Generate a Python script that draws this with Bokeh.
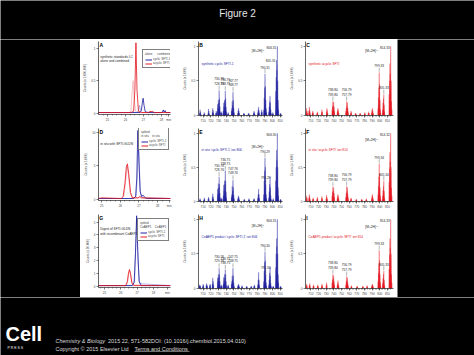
from bokeh.plotting import figure
from bokeh.layouts import row, column
from bokeh.models import Range1d, Legend, LegendItem, FixedTicker
from bokeh.core.properties import value
from bokeh.embed import file_html
from bokeh.resources import INLINE

FONT = "Liberation Sans"
BLUE = "#1c1c9e"
RED = "#e3121b"
LBLUE = "#8a8ad6"
PINK = "#f09aa0"
TXT = "#222222"

# ---------------- chromatograms (time in min, counts) ----------------
A_cyc_t = [24.5, 26.8, 26.88, 26.93, 26.98, 27.03, 27.1, 27.3, 28.05, 28.1, 28.15, 28.2, 28.25, 28.5]
A_cyc_y = [0.01, 0.01, 0.04, 0.15, 0.23, 0.12, 0.02, 0.01, 0.01, 0.05, 0.02, 0.04, 0.01, 0.01]
A_cyc2_t = [24.5, 26.65, 26.72, 26.78, 26.84, 26.9, 27.5, 28.0, 28.1, 28.2, 28.5]
A_cyc2_y = [0.01, 0.01, 0.04, 0.12, 0.04, 0.01, 0.01, 0.01, 0.04, 0.01, 0.01]
A_acy_t = [24.5, 26.3, 26.45, 26.52, 26.58, 26.64, 26.72, 26.9, 27.3, 27.36, 27.42, 27.48, 27.6, 28.5]
A_acy_y = [0.01, 0.01, 0.03, 0.35, 1.08, 0.35, 0.03, 0.01, 0.01, 0.03, 0.02, 0.03, 0.01, 0.01]
A_acy2_t = [24.5, 26.2, 26.3, 26.36, 26.42, 26.48, 26.56, 26.7, 27.3, 27.4, 27.5, 28.5]
A_acy2_y = [0.01, 0.01, 0.03, 0.3, 0.5, 0.22, 0.03, 0.01, 0.01, 0.03, 0.01, 0.01]

D_cyc_t = [24.83, 26.7, 26.82, 26.88, 26.94, 27.0, 27.06, 27.14, 27.22, 27.3, 27.4, 28.69]
D_cyc_y = [0.1, 0.1, 0.4, 3.0, 10.3, 5.5, 1.2, 0.4, 0.6, 0.3, 0.1, 0.1]
D_cyc2_t = [24.83, 26.75, 26.85, 26.92, 26.97, 27.02, 27.08, 27.15, 27.3, 28.69]
D_cyc2_y = [0.1, 0.1, 0.5, 4.0, 9.6, 5.0, 1.0, 0.3, 0.2, 0.1]
D_acy_t = [24.83, 25.0, 26.05, 26.15, 26.25, 26.32, 26.38, 26.45, 26.55, 26.65, 26.95, 27.05, 27.15, 28.69]
D_acy_y = [0.1, 0.2, 0.1, 0.4, 2.4, 4.8, 5.3, 3.8, 1.0, 0.2, 0.2, 0.4, 0.2, 0.1]
D_acy2_t = [24.83, 26.1, 26.2, 26.3, 26.37, 26.44, 26.52, 26.62, 28.69]
D_acy2_y = [0.1, 0.1, 0.6, 3.0, 4.9, 3.5, 1.0, 0.2, 0.1]

G_cyc_t = [24.64, 26.7, 26.82, 26.9, 26.97, 27.04, 27.12, 27.25, 29.04]
G_cyc_y = [0.05, 0.05, 0.3, 2.6, 5.5, 2.8, 0.4, 0.05, 0.05]
G_cyc2_t = [24.64, 26.75, 26.85, 26.92, 26.98, 27.05, 27.15, 29.04]
G_cyc2_y = [0.05, 0.05, 0.5, 3.2, 5.2, 2.0, 0.2, 0.05]
G_acy_t = [24.64, 26.3, 26.4, 26.47, 26.53, 26.6, 26.68, 26.8, 29.04]
G_acy_y = [0.05, 0.05, 0.35, 1.0, 1.3, 0.95, 0.25, 0.05, 0.05]
G_acy2_t = [24.64, 26.35, 26.44, 26.5, 26.56, 26.63, 26.72, 29.04]
G_acy2_y = [0.05, 0.05, 0.5, 1.1, 1.2, 0.7, 0.1, 0.05]

# ---------------- mass spectra: (first isotope m/z, intensities at 0.5 m/z steps) ----------------
ISO = 0.5
B_clusters = [
    (705.5, [0.03, 0.08, 0.05, 0.02]), (711.0, [0.02, 0.04, 0.02]), (716.5, [0.03, 0.09, 0.06, 0.02]),
    (722.0, [0.04, 0.1, 0.07, 0.03]), (726.5, [0.03, 0.06, 0.04]),
    (728.76, [0.16, 0.1, 0.22, 0.18, 0.36, 0.24, 0.12, 0.05]), (733.5, [0.03, 0.05, 0.03]),
    (736.25, [0.06, 0.18, 0.12, 0.22, 0.2, 0.35, 0.24, 0.12, 0.05]), (742.0, [0.02, 0.04, 0.02]),
    (746.77, [0.06, 0.1, 0.2, 0.14, 0.34, 0.22, 0.1, 0.04]), (755.0, [0.03, 0.07, 0.1, 0.06, 0.03]),
    (762.5, [0.02, 0.03, 0.02]), (768.5, [0.02, 0.03, 0.02]), (775.5, [0.03, 0.06, 0.04, 0.02]),
    (781.0, [0.04, 0.08, 0.12, 0.07, 0.03]), (785.5, [0.04, 0.08, 0.05]),
    (788.81, [0.08, 0.25, 0.4, 0.6, 0.42, 0.22, 0.1, 0.04]), (795.3, [0.05, 0.12, 0.2, 0.28, 0.18, 0.08, 0.03]),
    (800.0, [0.02, 0.04, 0.02]), (804.31, [0.35, 0.55, 0.8, 0.65, 1.0, 0.5, 0.22, 0.08]), (810.0, [0.02, 0.03, 0.02]),
]
B_ann = [("730.76\n728.76", 730.76, "c"), ("736.75\n738.75", 738.75, "c"), ("747.77\n748.77", 748.77, "c"),
         ("790.31", 790.31, "c"), ("805.31", 805.31, "l"), ("806.31", 806.31, "l")]

E_clusters = [
    (705.5, [0.02, 0.04, 0.02]), (711.0, [0.02, 0.05, 0.03]), (716.5, [0.03, 0.06, 0.04]),
    (722.0, [0.05, 0.11, 0.07, 0.03]), (728.76, [0.18, 0.1, 0.26, 0.2, 0.36, 0.25, 0.12, 0.05]),
    (733.5, [0.03, 0.05, 0.03]), (736.25, [0.08, 0.24, 0.15, 0.3, 0.25, 0.45, 0.3, 0.14, 0.05]),
    (746.76, [0.06, 0.1, 0.22, 0.15, 0.31, 0.2, 0.09, 0.04]), (755.0, [0.03, 0.06, 0.08, 0.05, 0.02]),
    (763.0, [0.02, 0.03, 0.02]), (769.0, [0.02, 0.04, 0.02]), (775.5, [0.02, 0.04, 0.03]),
    (781.0, [0.05, 0.1, 0.18, 0.1, 0.04]), (788.79, [0.1, 0.3, 0.45, 0.64, 0.5, 0.25, 0.1, 0.04]),
    (795.3, [0.05, 0.14, 0.25, 0.36, 0.2, 0.08, 0.03]), (800.5, [0.02, 0.04, 0.02]),
    (804.30, [0.3, 0.5, 0.75, 0.6, 1.0, 0.5, 0.2, 0.08]), (810.0, [0.02, 0.03, 0.02]),
]
E_ann = [("730.76\n728.76", 730.76, "c"), ("736.75\n738.75", 738.75, "c"), ("747.76\n748.76", 748.76, "c"),
         ("790.29", 790.29, "c"), ("791.29", 791.29, "c"), ("806.30", 806.30, "l")]

H_clusters = [
    (705.0, [0.03, 0.05, 0.04, 0.03]), (709.5, [0.03, 0.06, 0.04]), (714.0, [0.04, 0.07, 0.05, 0.03]),
    (718.5, [0.04, 0.06, 0.04]), (722.0, [0.06, 0.15, 0.1, 0.05]),
    (728.76, [0.15, 0.1, 0.2, 0.16, 0.29, 0.2, 0.1, 0.04]), (733.5, [0.03, 0.05, 0.03]),
    (736.25, [0.06, 0.16, 0.1, 0.2, 0.15, 0.27, 0.2, 0.1, 0.04]), (742.0, [0.03, 0.05, 0.03]),
    (746.75, [0.06, 0.1, 0.18, 0.12, 0.29, 0.18, 0.08, 0.03]), (755.0, [0.03, 0.05, 0.06, 0.04, 0.02]),
    (760.0, [0.02, 0.04, 0.02]), (766.0, [0.02, 0.03, 0.02]), (772.0, [0.02, 0.03, 0.02]),
    (776.0, [0.03, 0.05, 0.03]), (781.0, [0.05, 0.12, 0.23, 0.12, 0.05]),
    (788.80, [0.1, 0.25, 0.38, 0.53, 0.4, 0.2, 0.08, 0.03]), (795.3, [0.05, 0.12, 0.22, 0.31, 0.18, 0.07, 0.03]),
    (800.5, [0.02, 0.03, 0.02]), (804.31, [0.3, 0.5, 0.72, 0.6, 1.0, 0.5, 0.2, 0.08]), (810.0, [0.02, 0.03, 0.02]),
]
H_ann = [("730.76\n729.76", 730.76, "c"), ("736.75\n738.75", 738.75, "c"), ("747.75\n748.75", 748.75, "c"),
         ("790.30", 790.30, "c"), ("791.30", 791.30, "c"), ("806.31", 806.31, "l")]

C_clusters = [
    (704.0, [0.05, 0.1, 0.06, 0.03]), (707.5, [0.06, 0.12, 0.08, 0.04]), (712.0, [0.03, 0.06, 0.04]),
    (718.0, [0.03, 0.05, 0.03]), (724.0, [0.04, 0.08, 0.05]), (730.5, [0.05, 0.1, 0.07, 0.03]),
    (737.80, [0.08, 0.12, 0.2, 0.14, 0.19, 0.12, 0.06]), (744.5, [0.04, 0.08, 0.1, 0.06, 0.03]),
    (755.79, [0.06, 0.1, 0.2, 0.12, 0.18, 0.1, 0.05]), (762.0, [0.03, 0.06, 0.04]),
    (768.0, [0.02, 0.03, 0.02]), (774.0, [0.02, 0.03, 0.02]), (780.0, [0.02, 0.04, 0.02]),
    (785.0, [0.03, 0.05, 0.03]), (789.5, [0.04, 0.08, 0.1, 0.06, 0.03]),
    (797.83, [0.1, 0.25, 0.4, 0.62, 0.45, 0.22, 0.08, 0.03]), (803.83, [0.08, 0.18, 0.24, 0.3, 0.15, 0.05]),
    (812.33, [0.3, 0.5, 0.75, 0.6, 1.0, 0.5, 0.2, 0.08]),
]
C_ann = [("738.80\n739.80", 738.80, "c"), ("756.79\n757.79", 756.79, "c"), ("799.33", 799.33, "c"),
         ("805.33", 805.33, "c"), ("814.33", 814.33, "l")]

F_clusters = [
    (704.0, [0.04, 0.08, 0.05]), (707.5, [0.05, 0.1, 0.07, 0.03]), (712.5, [0.03, 0.05, 0.03]),
    (718.0, [0.03, 0.06, 0.04]), (724.0, [0.04, 0.07, 0.04]), (730.0, [0.04, 0.09, 0.06, 0.03]),
    (737.80, [0.08, 0.13, 0.21, 0.15, 0.2, 0.12, 0.06]), (744.5, [0.04, 0.08, 0.1, 0.06, 0.03]),
    (755.79, [0.06, 0.12, 0.22, 0.14, 0.2, 0.1, 0.05]), (762.0, [0.03, 0.05, 0.03]),
    (769.0, [0.02, 0.03, 0.02]), (776.0, [0.02, 0.03, 0.02]), (782.0, [0.02, 0.04, 0.02]),
    (789.5, [0.04, 0.08, 0.1, 0.06, 0.03]), (797.84, [0.1, 0.22, 0.36, 0.55, 0.4, 0.2, 0.08, 0.03]),
    (803.84, [0.08, 0.16, 0.22, 0.3, 0.15, 0.05]), (812.32, [0.28, 0.48, 0.72, 0.58, 1.0, 0.5, 0.2, 0.08]),
]
F_ann = [("738.80\n739.80", 738.80, "c"), ("756.79\n757.79", 756.79, "c"), ("799.34", 799.34, "c"),
         ("805.34", 805.34, "c"), ("814.32", 814.32, "l")]

I_clusters = [
    (704.0, [0.03, 0.06, 0.04]), (708.0, [0.04, 0.07, 0.04]), (713.0, [0.03, 0.05, 0.03]),
    (718.5, [0.03, 0.05, 0.03]), (724.0, [0.03, 0.06, 0.04]), (730.0, [0.04, 0.08, 0.05]),
    (737.80, [0.08, 0.12, 0.2, 0.14, 0.18, 0.1, 0.05]), (744.5, [0.04, 0.08, 0.11, 0.06, 0.03]),
    (755.79, [0.05, 0.1, 0.17, 0.11, 0.15, 0.08, 0.04]), (762.5, [0.02, 0.04, 0.02]),
    (770.0, [0.02, 0.03, 0.02]), (777.5, [0.02, 0.03, 0.02]), (783.0, [0.02, 0.04, 0.02]),
    (789.5, [0.03, 0.05, 0.06, 0.04, 0.02]), (797.83, [0.1, 0.22, 0.36, 0.55, 0.4, 0.2, 0.08, 0.03]),
    (803.83, [0.07, 0.14, 0.2, 0.25, 0.12, 0.04]), (812.33, [0.28, 0.48, 0.72, 0.58, 1.0, 0.5, 0.2, 0.08]),
]
I_ann = [("738.80\n739.80", 738.80, "c"), ("756.79\n757.79", 756.79, "c"), ("799.33", 799.33, "c"),
         ("805.33", 805.33, "c"), ("814.33", 814.33, "l")]

MZ_TICKS = [710, 720, 730, 740, 750, 760, 770, 780, 790, 800, 810]
ION = "[M+2H]\u00b2\u207a"


def styled(p):
    p.xgrid.visible = False
    p.ygrid.visible = False
    for ax in (p.xaxis[0], p.yaxis[0]):
        ax.axis_line_width = 0.6
        ax.major_tick_line_width = 0.5
        ax.minor_tick_line_width = 0.4
        ax.major_tick_in = 0
        ax.major_tick_out = 2
        ax.minor_tick_in = 0
        ax.minor_tick_out = 1
        ax.major_label_text_font_size = "3px"
        ax.major_label_text_font = FONT
        ax.major_label_standoff = 1
        ax.axis_label_text_font_size = "3px"
        ax.axis_label_text_font = FONT
        ax.axis_label_text_font_style = "normal"
        ax.axis_label_standoff = 1
    return p


def base_fig(w, h, xr, yr, bl, br, bt, bb):
    p = figure(width=w, height=h, x_range=Range1d(*xr), y_range=Range1d(*yr), output_backend="svg",
               toolbar_location=None, min_border_left=bl, min_border_right=br, min_border_top=bt,
               min_border_bottom=bb, background_fill_color="white", border_fill_color="white",
               outline_line_color=None)
    return styled(p)


def txt(p, x, y, t, size="3.2px", color=TXT, align="left", base="top", style="normal"):
    p.text(x=x, y=y, text=t, text_font=value(FONT), text_font_size=size, text_color=color,
           text_align=align, text_baseline=base, text_font_style=style)


def chrom(w, h, xr, yr, borders, yticks, ylabel, minpos, traces, title, desc, desc_y, leg_loc, letter):
    p = base_fig(w, h, xr, yr, *borders)
    p.xaxis[0].ticker = FixedTicker(ticks=[25, 26, 27, 28, minpos],
                                    minor_ticks=[24.75, 25.25, 25.5, 25.75, 26.25, 26.5, 26.75,
                                                 27.25, 27.5, 27.75, 28.25])
    p.xaxis[0].major_label_overrides = {minpos: "min"}
    p.yaxis[0].ticker = FixedTicker(ticks=yticks)
    p.yaxis[0].axis_label = ylabel
    rs = {}
    for key, (t, y, col, lw) in traces.items():
        rs[key] = p.line(t, y, line_color=col, line_width=lw)
    leg = Legend(items=[LegendItem(label="cyclic SFTI-1", renderers=[rs["cyc2"], rs["cyc"]]),
                        LegendItem(label="acyclic SFTI", renderers=[rs["acy2"], rs["acy"]])],
                 location=leg_loc, title=title, label_text_font_size="3px", label_text_font=FONT,
                 title_text_font_size="3px", title_text_font=FONT, title_text_font_style="normal",
                 glyph_width=7, glyph_height=3, label_height=3, label_width=16, label_standoff=1, padding=2,
                 spacing=0, margin=0, border_line_color="black", border_line_width=0.5, title_standoff=1)
    p.add_layout(leg)
    txt(p, [xr[0] + 0.1], [desc_y], [desc])
    txt(p, [xr[0] + 0.05], [yr[1]], [letter], size="5px", color="black", style="bold")
    return p


def spectrum(w, h, xr, borders, clusters, color, ann, desc, top_mz, ion_y, letter, ylabel):
    p = base_fig(w, h, xr, (-0.005, 1.07), *borders)
    p.xaxis[0].ticker = FixedTicker(ticks=MZ_TICKS, minor_ticks=list(range(706, 816, 2)))
    p.yaxis[0].ticker = FixedTicker(ticks=[0, 0.5, 1.0])
    p.yaxis[0].axis_label = ylabel
    hw = 0.32
    xs, ys, heights = [], [], {}
    for start, hs in clusters:
        for i, hh in enumerate(hs):
            m = round(start + ISO * i, 2)
            xs.append([m - hw, m, m + hw])
            ys.append([0, hh, 0])
            heights[m] = hh
    p.patches(xs, ys, fill_color=color, line_color=color, line_width=0.3)
    cx, cy, ct, lx, ly, lt = [], [], [], [], [], []
    s0x, s0y, s1y = [], [], []
    for text, mz, mode in ann:
        hh = heights[round(mz, 2)]
        if mode == "c":
            cx.append(mz); cy.append(hh + 0.075); ct.append(text)
            s0x.append(mz); s0y.append(hh + 0.01); s1y.append(hh + 0.07)
        else:
            lx.append(mz - 1.3); ly.append(hh - 0.01); lt.append(text)
    p.segment(x0=s0x, y0=s0y, x1=s0x, y1=s1y, line_color="#444444", line_width=0.4)
    txt(p, cx, cy, ct, align="center", base="bottom")
    txt(p, lx, ly, lt, align="right", base="middle")
    txt(p, [top_mz - 25], [ion_y], [ION], align="center", base="middle")
    txt(p, [xr[0] + 4], [0.75], [desc], color=color, base="middle")
    txt(p, [xr[0] + 1], [1.07], [letter], size="5px", color="black", style="bold")
    return p


def pad(w, h):
    p = figure(width=w, height=h, x_range=Range1d(0, w), y_range=Range1d(h, 0), output_backend="svg",
               toolbar_location=None, min_border=0, background_fill_color="black",
               border_fill_color="black", outline_line_color=None)
    p.axis.visible = False
    p.grid.visible = False
    return p


# ---------------- panels ----------------
A = chrom(100, 85, (24.5, 28.5), (-0.02, 1.1), (11, 9, 2, 8), [0, 0.5, 1.0], "Counts (x 1,000,000)", 28.4,
          {"cyc2": (A_cyc2_t, A_cyc2_y, LBLUE, 0.6), "acy2": (A_acy2_t, A_acy2_y, PINK, 0.6),
           "cyc": (A_cyc_t, A_cyc_y, BLUE, 0.8), "acy": (A_acy_t, A_acy_y, RED, 0.8)},
          "alone      combined", "synthetic standards LC\nalone and combined", 0.89, (44, 46), "A")
D = chrom(100, 86, (24.83, 28.69), (-0.2, 10.6), (9, 10, 4, 9), [0, 5, 10], "Counts (x 1,000)", 28.62,
          {"cyc2": (D_cyc2_t, D_cyc2_y, LBLUE, 0.6), "acy2": (D_acy2_t, D_acy2_y, PINK, 0.6),
           "cyc": (D_cyc_t, D_cyc_y, BLUE, 0.8), "acy": (D_acy_t, D_acy_y, RED, 0.8)},
          "spiked\nin situ    in situ", "in situ with SFTI-GLDN", 8.6, (40, 50), "D")
G = chrom(100, 87, (24.64, 29.04), (-0.1, 5.6), (10, 9, 4, 7), [0, 1, 2, 3, 4, 5], "Counts (x 10,000)", 28.85,
          {"cyc2": (G_cyc2_t, G_cyc2_y, LBLUE, 0.6), "acy2": (G_acy2_t, G_acy2_y, PINK, 0.6),
           "cyc": (G_cyc_t, G_cyc_y, BLUE, 0.8), "acy": (G_acy_t, G_acy_y, RED, 0.8)},
          "spiked\nCeAEP1    CeAEP1", "Digest of SFTI-GLDN\nwith recombinant CeAEP1", 4.6, (39, 46), "G")

YL = "Counts (x 1,000)"
B = spectrum(107, 85, (704, 813), (11, 5, 2, 4), B_clusters, BLUE, B_ann, "synthetic cyclic SFTI-1", 806.31, 0.93, "B", YL)
E = spectrum(107, 86, (704, 813), (11, 5, 4, 7), E_clusters, BLUE, E_ann, "in situ 'cyclic SFTI-1' ion 806", 806.30, 0.8, "E", YL)
H = spectrum(107, 87, (704, 813), (11, 5, 4, 7), H_clusters, BLUE, H_ann, "CeAEP1 product 'cyclic SFTI-1' ion 806", 806.31, 0.9, "H", YL)
C = spectrum(110, 85, (703, 818), (11, 4, 2, 4), C_clusters, RED, C_ann, "synthetic acyclic SFTI", 814.33, 0.93, "C", YL)
F = spectrum(110, 86, (703, 818), (11, 4, 4, 7), F_clusters, RED, F_ann, "in situ 'acyclic SFTI' ion 814", 814.32, 0.9, "F", YL)
I = spectrum(110, 87, (703, 818), (11, 4, 4, 7), I_clusters, RED, I_ann, "CeAEP1 product 'acyclic SFTI' ion 814", 814.33, 0.89, "I", YL)

# ---------------- slide frame ----------------
top = figure(width=474, height=39, x_range=Range1d(0, 474), y_range=Range1d(39, 0), output_backend="svg",
             toolbar_location=None, min_border=0, background_fill_color="black", border_fill_color="black",
             outline_line_color=None)
top.axis.visible = False
top.grid.visible = False
top.text(x=[237], y=[13], text=["Figure 2"], text_font=value(FONT), text_font_size="10px",
         text_color="#e6e6e6", text_align="center", text_baseline="middle")

bot = figure(width=474, height=58, x_range=Range1d(0, 474), y_range=Range1d(355, 297), output_backend="svg",
             toolbar_location=None, min_border=0, background_fill_color="black", border_fill_color="black",
             outline_line_color=None)
bot.axis.visible = False
bot.grid.visible = False
bot.text(x=[5], y=[333], text=["Cell"], text_font=value(FONT), text_font_size="20px", text_font_style="bold",
         text_color="white", text_align="left", text_baseline="middle")
bot.text(x=[7], y=[347], text=["P  R  E  S  S"], text_font=value(FONT), text_font_size="3.5px",
         text_color="white", text_align="left", text_baseline="middle")
bot.text(x=[55], y=[340], text=["Chemistry & Biology"], text_font=value(FONT), text_font_size="5.5px",
         text_font_style="italic", text_color="#dddddd", text_align="left", text_baseline="middle")
bot.text(x=[107.5], y=[340], text=["2015 22, 571-582DOI: (10.1016/j.chembiol.2015.04.010)"], text_font=value(FONT),
         text_font_size="5.5px", text_color="#dddddd", text_align="left", text_baseline="middle")
bot.text(x=[55], y=[348.5], text=["Copyright \u00a9 2015 Elsevier Ltd"], text_font=value(FONT),
         text_font_size="5.5px", text_color="#dddddd", text_align="left", text_baseline="middle")
bot.text(x=[134], y=[348.5], text=["Terms and Conditions"], text_font=value(FONT), text_font_size="5.5px",
         text_color="#dddddd", text_align="left", text_baseline="middle")
bot.segment(x0=[134], y0=[351], x1=[189], y1=[351], line_color="#dddddd", line_width=0.5)

grid = row(column(A, D, G), column(B, E, H), column(C, F, I))
middle = row(pad(80, 258), grid, pad(77, 258))
page = column(top, middle, bot)

open("out.html", "w").write(file_html(page, INLINE))
